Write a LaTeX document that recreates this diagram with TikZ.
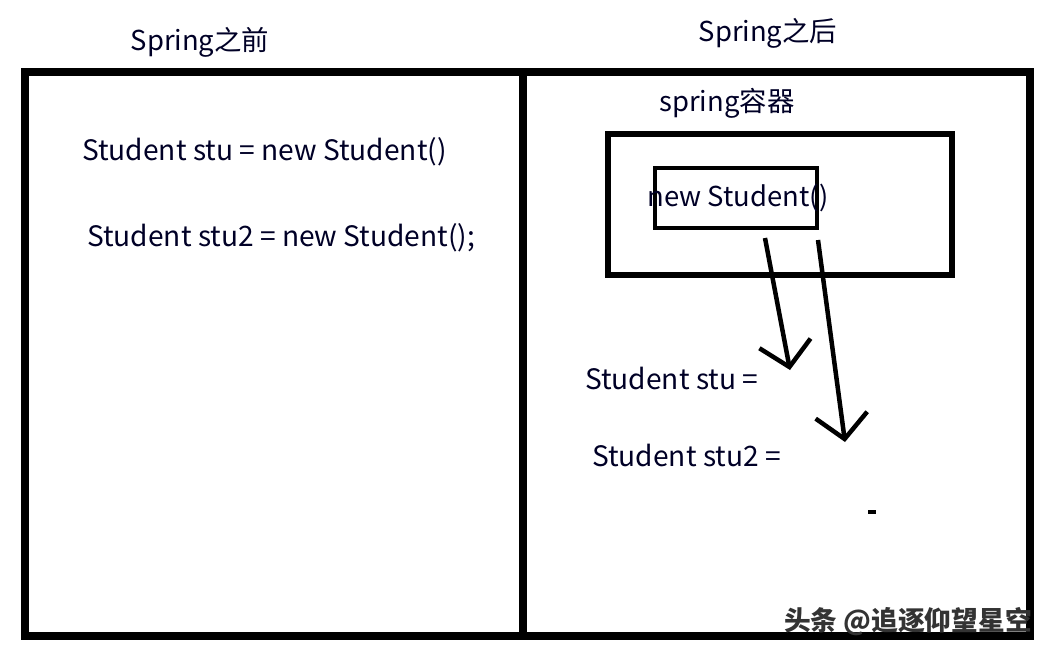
\documentclass[tikz,border=0pt]{standalone}
\usepackage{fontspec}
\setmainfont{Noto Sans CJK SC}
\usetikzlibrary{arrows.meta,positioning}

\begin{document}
\begin{tikzpicture}[x=0.025cm, y=-0.025cm,
    panel/.style={draw, line width=5.5pt, minimum width=#1, minimum height=14.1cm, inner sep=0pt},
    codetext/.style={anchor=west, inner sep=0pt, font=\fontsize{20}{24}\selectfont, text=black!85!blue},
    title/.style={inner sep=0pt, font=\fontsize{19.5}{24}\selectfont, text=black!85!blue},
    handarrow/.style={line width=3.2pt, -{Straight Barb[length=0.6cm, width=1.3cm, line width=3.2pt]}}]
    \useasboundingbox (0,0) rectangle (1054,654);

    % Titles
    \node[title] (tbefore) at (200,42) {Spring之前};
    \node[title] (tafter) at (768,33) {Spring之后};

    % The two panels
    \node[panel=12.45cm] (before) at (274,354) {};
    \node[panel=12.675cm] (after) at (776.5,354) {};

    % Left side code
    \node[codetext] (line1) at (82,152) {Student stu = new Student()};
    \node[codetext] (line2) at (87,238) {Student stu2 = new Student();};

    % Spring container
    \node[title] (ctitle) at (727,103) {spring容器};
    \node[draw, line width=4.5pt, minimum width=8.6cm, minimum height=3.525cm, inner sep=0pt] (container) at (780,204.5) {};
    \node[draw, line width=2.6pt, minimum width=4.05cm, minimum height=1.5cm, inner sep=0pt] (bean) at (736,198) {};
    \node[title] (beantext) at (738,198) {new Student()};

    % Right side code
    \node[codetext] (ref1) at (585,378) {Student stu =};
    \node[codetext] (ref2) at (592,455) {Student stu2 =};

    % Injection arrows
    \coordinate (s1) at (765,238);
    \coordinate (e1) at (790,370);
    \coordinate (s2) at (818,240);
    \coordinate (e2) at (845,442);
    \draw[handarrow] (s1) -- (e1);
    \draw[handarrow] (s2) -- (e2);

    % Stray mark
    \node[fill=black, minimum width=0.2cm, minimum height=0.1cm, inner sep=0pt] (dot) at (872,512) {};

    % Watermark
    \node[inner sep=0pt, font=\fontsize{19}{22}\selectfont\bfseries, text=black!80] (mark) at (908,622) {头条 @追逐仰望星空};
\end{tikzpicture}
\end{document}
